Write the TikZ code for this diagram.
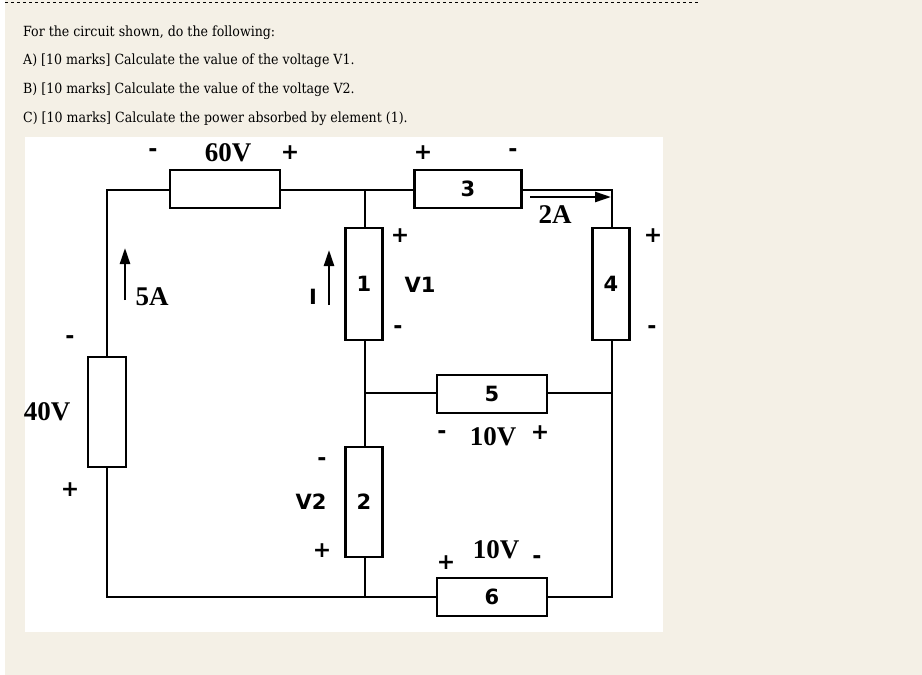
\documentclass[tikz,border=0pt]{standalone}
\usepackage{fontspec}
\setmainfont{DejaVu Serif Condensed}
\newfontfamily\tms{Liberation Serif}
\newfontfamily\sns{DejaVu Sans}
\usetikzlibrary{arrows.meta}
\definecolor{bg}{HTML}{F4F0E6}
\begin{document}
\begin{tikzpicture}[x=1pt,y=-1pt,
  res/.style={draw,line width=2.4pt,fill=white,inner sep=0pt},
  wire/.style={line width=2.4pt},
  val/.style={font=\tms\bfseries\fontsize{27}{27}\selectfont},
  num/.style={font=\sns\bfseries\fontsize{21}{21}\selectfont},
  sgn/.style={font=\sns\bfseries\fontsize{22}{22}\selectfont},
  txt/.style={font=\fontsize{14}{14}\selectfont,anchor=west,inner sep=0pt},
  arr/.style={line width=2.4pt,-{Triangle[length=16pt,width=10pt]}}]
\useasboundingbox (0,0) rectangle (922,675);
\fill[white] (0,0) rectangle (922,675);
\fill[bg] (5,0) rectangle (922,675);
\draw[dashed,line width=0.6pt] (5,2) -- (700,2);
\node[txt] (t1) at (23,33) {For the circuit shown, do the following:};
\node[txt] (t2) at (23,61) {A) [10 marks] Calculate the value of the voltage V1.};
\node[txt] (t3) at (23,90) {B) [10 marks] Calculate the value of the voltage V2.};
\node[txt] (t4) at (23,119) {C) [10 marks] Calculate the power absorbed by element (1).};
\fill[white] (25,137) rectangle (663,632);
% nodes
\coordinate (tl) at (107,190); \coordinate (tm) at (365,190); \coordinate (tr) at (612,190);
\coordinate (bl) at (107,597); \coordinate (bm) at (365,597); \coordinate (br) at (612,597);
\coordinate (ml) at (365,393); \coordinate (mr) at (612,393);
\draw[wire] (tl) -- (tr) -- (br) -- (bl) -- cycle;
\draw[wire] (tm) -- (bm);
\draw[wire] (ml) -- (mr);
\node[res,minimum width=110pt,minimum height=38pt] (r60) at (225,189) {};
\node[res,minimum width=107pt,minimum height=38pt] (r3) at (468,189) {};
\node[res,minimum width=38pt,minimum height=110pt] (r40) at (107,412) {};
\node[res,minimum width=37pt,minimum height=112pt] (r1) at (364,284) {};
\node[res,minimum width=37pt,minimum height=112pt] (r4) at (611,284) {};
\node[res,minimum width=110pt,minimum height=38pt] (r5) at (492,394) {};
\node[res,minimum width=37pt,minimum height=110pt] (r2) at (364,502) {};
\node[res,minimum width=110pt,minimum height=38pt] (r6) at (492,597) {};
% labels in boxes
\node[num] at (r3) {3};
\node[num] at (r1) {1};
\node[num] at (r4) {4};
\node[num] at (r5) {5};
\node[num] at (r2) {2};
\node[num] at (r6) {6};
% arrows
\coordinate (a5s) at (125,300); \coordinate (a5e) at (125,248);
\draw[arr] (a5s) -- (a5e);
\coordinate (ais) at (329,305); \coordinate (aie) at (329,250);
\draw[arr] (ais) -- (aie);
\coordinate (a2s) at (530,197); \coordinate (a2e) at (611,197);
\draw[arr] (a2s) -- (a2e);
% values
\node[val] at (228,153) {60V};
\node[val] at (152,297) {5A};
\node[val] at (47,412) {40V};
\node[val] at (555,215) {2A};
\node[val] at (493,437) {10V};
\node[val] at (496,550) {10V};
\node[num] at (313,297) {I};
\node[num] at (420,285) {V1};
\node[num] at (311,502) {V2};
% signs
\node[sgn] at (153,153) {-};
\node[sgn] at (290,153) {+};
\node[sgn] at (423,153) {+};
\node[sgn] at (513,153) {-};
\node[sgn] at (400,236) {+};
\node[sgn] at (398,330) {-};
\node[sgn] at (653,236) {+};
\node[sgn] at (652,330) {-};
\node[sgn] at (70,340) {-};
\node[sgn] at (70,490) {+};
\node[sgn] at (442,435) {-};
\node[sgn] at (540,433) {+};
\node[sgn] at (322,462) {-};
\node[sgn] at (322,551) {+};
\node[sgn] at (446,563) {+};
\node[sgn] at (537,560) {-};
\end{tikzpicture}
\end{document}
